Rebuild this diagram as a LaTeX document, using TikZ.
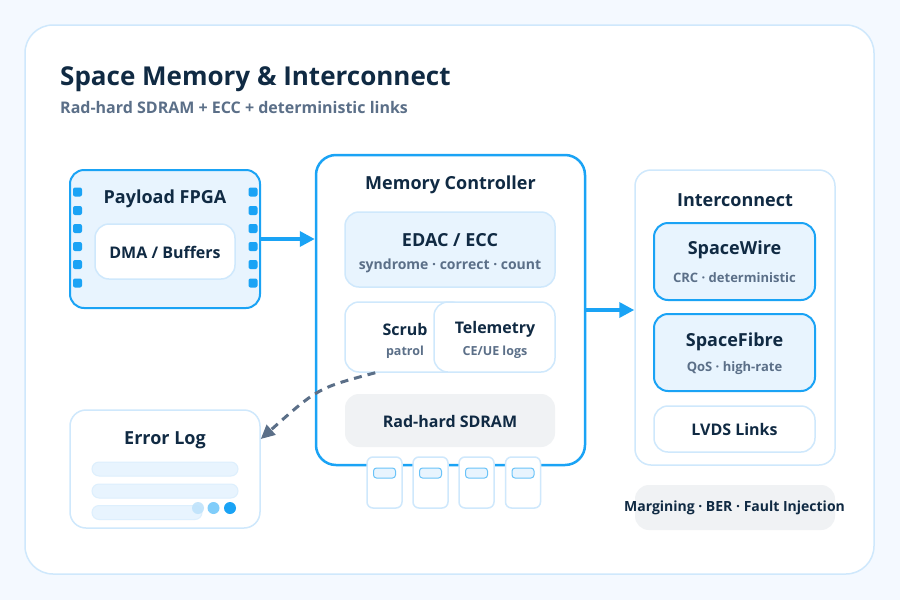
\documentclass[tikz,border=0pt]{standalone}
\usepackage{fontspec}
\setmainfont{Open Sans}
\usetikzlibrary{arrows.meta}
\definecolor{navy}{HTML}{102A43}
\definecolor{slate}{HTML}{5B6F88}
\definecolor{accent}{HTML}{1AA3F5}
\definecolor{lightfill}{HTML}{E8F4FE}
\definecolor{lightline}{HTML}{CFE8FC}
\definecolor{grayfill}{HTML}{F0F2F4}
\definecolor{bgout}{HTML}{F4F9FF}
\definecolor{dotone}{HTML}{BFE3FB}
\definecolor{dottwo}{HTML}{80CDFA}
\begin{document}
\begin{tikzpicture}[x=1pt,y=-1pt,
  strongbox/.style={draw=accent, line width=2pt, fill=lightfill, rounded corners=14pt, inner sep=0pt},
  mcbox/.style={draw=accent, line width=2.5pt, fill=white, rounded corners=20pt, inner sep=0pt},
  softbox/.style={draw=lightline, line width=1.5pt, fill=white, rounded corners=14pt, inner sep=0pt},
  softfill/.style={draw=lightline, line width=1.5pt, fill=lightfill, rounded corners=14pt, inner sep=0pt},
  graybox/.style={fill=grayfill, rounded corners=14pt, inner sep=0pt},
  pin/.style={fill=accent, rounded corners=2pt, minimum width=9pt, minimum height=9pt, inner sep=0pt},
  chipbox/.style={draw=lightline, line width=1.5pt, fill=white, rounded corners=6pt, minimum width=35pt, minimum height=51pt, inner sep=0pt},
  chippad/.style={draw=accent!65, line width=1pt, fill=lightfill, rounded corners=3pt, minimum width=22pt, minimum height=10pt, inner sep=0pt},
  bar/.style={draw=lightline!70, line width=1pt, fill=lightfill, rounded corners=7pt, minimum height=14pt, inner sep=0pt},
  head/.style={text=navy, font=\bfseries\fontsize{18}{21}\selectfont, inner sep=0pt},
  lbl/.style={text=navy, font=\bfseries\fontsize{16}{19}\selectfont, inner sep=0pt},
  sub/.style={text=slate, font=\bfseries\fontsize{12.5}{15}\selectfont, inner sep=0pt},
  flow/.style={draw=accent, line width=3.5pt, -{Triangle[length=15pt,width=15pt]}},
  dashflow/.style={draw=slate, line width=3pt, dash pattern=on 8pt off 6pt, -{Triangle[length=14pt,width=13pt]}}
]
\fill[bgout] (0,0) rectangle (900,600);
\useasboundingbox (0,0) rectangle (900,600);
\node[draw=lightline, line width=1.5pt, fill=white, rounded corners=28pt, minimum width=849pt, minimum height=549pt, inner sep=0pt] (card) at (449.5,299.5) {};

% title
\node[anchor=base west, text=navy, font=\bfseries\fontsize{26}{30}\selectfont, inner sep=0pt] (title) at (60,85) {Space Memory \& Interconnect};
\node[anchor=base west, text=slate, font=\bfseries\fontsize{16}{19}\selectfont, inner sep=0pt] (subtitle) at (60,113) {Rad-hard SDRAM + ECC + deterministic links};

% Payload FPGA
\node[strongbox, minimum width=190pt, minimum height=138pt] (fpga) at (165,239) {};
\foreach \i/\yy in {1/192,2/210.5,3/228.5,4/246.5,5/264.5,6/283}{
  \node[pin] (pinL\i) at (77.5,\yy) {};
  \node[pin] (pinR\i) at (253,\yy) {};
}
\node[head] (fpgat) at (165,199) {Payload FPGA};
\node[softbox, minimum width=140pt, minimum height=55pt] (dma) at (165,251.5) {};
\node[lbl] (dmat) at (165,252) {DMA / Buffers};

% Memory controller
\node[mcbox, minimum width=269pt, minimum height=310pt] (mc) at (450.5,310) {};
\node[head] (mct) at (450.5,185) {Memory Controller};
\node[softfill, minimum width=210pt, minimum height=75pt] (edac) at (450,249.5) {};
\node[head] (edact) at (450,240) {EDAC / ECC};
\node[sub, font=\bfseries\fontsize{14}{16}\selectfont] (edacs) at (450,265.5) {syndrome · correct · count};
\node[softbox, minimum width=120pt, minimum height=70pt] (scrub) at (405,337) {};
\node[softbox, minimum width=121pt, minimum height=70pt] (telem) at (494.5,337) {};
\node[lbl] (scrubt) at (405,329) {Scrub};
\node[sub] (scrubs) at (405,352.5) {patrol};
\node[lbl] (telemt) at (495,329) {Telemetry};
\node[sub] (telems) at (495,352.5) {CE/UE logs};
\node[graybox, minimum width=210pt, minimum height=53pt] (sdram) at (450,420.5) {};
\node[lbl] (sdramt) at (450,421.5) {Rad-hard SDRAM};
\foreach \i/\xx in {1/384.5,2/430.5,3/476.5,4/523}{
  \node[chipbox] (chip\i) at (\xx,482.5) {};
  \node[chippad] (pad\i) at (\xx,473) {};
}

% Error log
\node[softbox, rounded corners=16pt, minimum width=190pt, minimum height=118pt] (errlog) at (165,469) {};
\node[head] (errt) at (165,440.5) {Error Log};
\node[bar, minimum width=146pt] (bar1) at (165,469) {};
\node[bar, minimum width=146pt] (bar2) at (165,491) {};
\node[bar, minimum width=110pt] (bar3) at (147,512.5) {};
\fill[dotone, opacity=0.9] (198,508) circle (6pt);
\fill[dottwo] (213.5,508) circle (6pt);
\fill[accent] (230,508) circle (6pt);

% Interconnect
\node[softbox, rounded corners=16pt, minimum width=200pt, minimum height=295pt] (ic) at (735,317.5) {};
\node[head] (ict) at (735,200) {Interconnect};
\node[strongbox, minimum width=161pt, minimum height=77pt] (spw) at (734.5,261.5) {};
\node[head] (spwt) at (734.5,250) {SpaceWire};
\node[sub, font=\bfseries\fontsize{13}{15}\selectfont] (spws) at (734.5,277.5) {CRC · deterministic};
\node[strongbox, minimum width=161pt, minimum height=77pt] (spf) at (734.5,352.5) {};
\node[head] (spft) at (734.5,342) {SpaceFibre};
\node[sub, font=\bfseries\fontsize{13}{15}\selectfont] (spfs) at (734.5,368.5) {QoS · high-rate};
\node[softbox, minimum width=161pt, minimum height=46pt] (lvds) at (734.5,429) {};
\node[lbl] (lvdst) at (734.5,429.5) {LVDS Links};

\node[graybox, minimum width=200pt, minimum height=45pt] (marg) at (735,507.5) {};
\node[lbl, font=\bfseries\fontsize{14}{16}\selectfont] (margt) at (734.5,508) {Margining · BER · Fault Injection};

% connectors
\draw[flow] (fpga.east) -- (fpga.east -| mc.west);
\draw[flow] (mc.east) -- (mc.east -| ic.west);
\draw[dashflow] ([xshift=31pt]scrub.south west) .. controls (318,388) .. ([yshift=30pt,xshift=0pt]errlog.east);
\end{tikzpicture}
\end{document}
